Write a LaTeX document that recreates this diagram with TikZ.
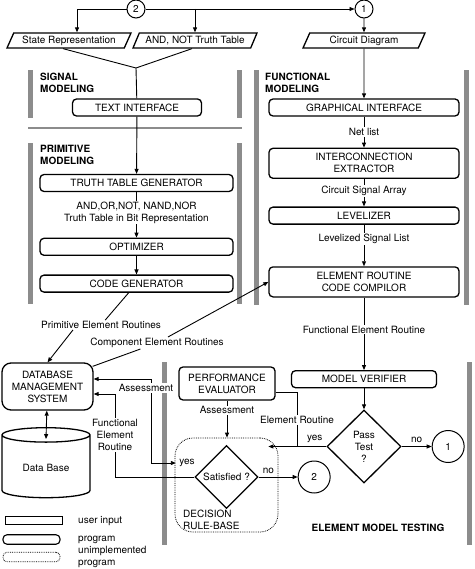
\documentclass[tikz,border=0pt]{standalone}
\usepackage{fontspec}
\setmainfont{TeX Gyre Heros}
\usetikzlibrary{arrows.meta,positioning,calc,shapes.geometric}

\begin{document}
\begin{tikzpicture}[
  x=1pt, y=-1pt,
  box/.style={draw, line width=1.3pt, rounded corners=4pt, minimum height=17pt,
    inner sep=2pt, align=center},
  todo/.style={box, line width=0.8pt, densely dotted},
  io/.style={draw, line width=1.3pt, trapezium, trapezium left angle=60,
    trapezium right angle=120, trapezium stretches body, minimum height=15pt,
    inner sep=1pt},
  test/.style={draw, line width=1.3pt, diamond, inner sep=0pt, align=center},
  conn/.style={draw, line width=1pt, circle, inner sep=0pt},
  arrow/.style={-{Triangle[length=5pt, width=4pt]}, line width=0.9pt},
  darrow/.style={{Triangle[length=5pt, width=4pt]}-{Triangle[length=5pt, width=4pt]},
    line width=0.9pt},
  line/.style={line width=0.9pt},
  note/.style={fill=white, inner sep=1pt, align=center},
  head/.style={font=\bfseries, align=left, anchor=west, inner sep=0pt},
  band/.style={fill=black!45}
]
  \useasboundingbox (0,0) rectangle (474,569);
  % Bands
  \fill[band] (28,70) rectangle (33,118);
  \fill[band] (237,70) rectangle (242,118);
  \fill[band] (28,127) rectangle (242,129.5);
  \fill[band] (28,143) rectangle (33,304);
  \fill[band] (237,143) rectangle (242,304);
  \fill[band] (254,70) rectangle (259,305);
  \fill[band] (464,70) rectangle (469,305);
  \fill[band] (162,362) rectangle (167,545);
  \fill[band] (467,362) rectangle (472,545);
  % Nodes
  \node[conn, minimum size=18pt] (top2) at (136,9) {2};
  \node[conn, minimum size=18pt] (top1) at (364,9) {1};
  \node[io, minimum width=124pt] (state) at (69,40.5) {State Representation};
  \node[io, minimum width=124pt] (andnot) at (195,40.5) {AND, NOT Truth Table};
  \node[io, minimum width=122pt] (circuit) at (364,40.5) {Circuit Diagram};
  \coordinate (merge) at (136,68);

  \node[head] (signal) at (40,83) {SIGNAL\\MODELING};
  \node[box, minimum width=129pt] (textif) at (137,107.5) {TEXT INTERFACE};
  \node[head] (primit) at (40,155) {PRIMITIVE\\MODELING};
  \node[box, minimum width=193pt] (ttgen) at (136.5,183) {TRUTH TABLE GENERATOR};
  \node[box, minimum width=193pt, below=45.5pt of ttgen] (optim) {OPTIMIZER};
  \node[box, minimum width=193pt, below=18.5pt of optim] (codegen) {CODE GENERATOR};

  \node[head] (funct) at (265,82.5) {FUNCTIONAL\\MODELING};
  \node[box, minimum width=190pt] (graphif) at (364,107.5) {GRAPHICAL INTERFACE};
  \node[box, minimum width=190pt, minimum height=30pt, below=31pt of graphif] (extract)
    {INTERCONNECTION\\EXTRACTOR};
  \node[box, minimum width=190pt, below=27.5pt of extract] (level) {LEVELIZER};
  \node[box, minimum width=190pt, minimum height=30pt, below=41.5pt of level] (compil)
    {ELEMENT ROUTINE\\CODE COMPILOR};
  \node[box, minimum width=145pt, below=72.5pt of compil] (verify) {MODEL VERIFIER};
  \node[test, minimum width=74pt, minimum height=73pt, below=21pt of verify] (pass)
    {Pass\\Test\\?};
  \node[conn, minimum size=32pt, right=30pt of pass] (out1) {1};

  \node[box, rounded corners=9pt, minimum width=91pt, minimum height=47pt] (dbms)
    at (47.5,386.5) {DATABASE\\MANAGEMENT\\SYSTEM};
  \node[cylinder, draw, line width=1.3pt, shape border rotate=90, aspect=0.27,
    minimum width=88pt, minimum height=70pt] (db) at (46,468) {Data Base};
  \node[note] (prim) at (101,325) {Primitive Element Routines};
  \node[note] (comp) at (157,343) {Component Element Routines};
  \node[note] (felem) at (115,435) {Functional\\Element\\Routine};

  \node[box, minimum width=96pt, minimum height=33pt] (perfev) at (227,383.5)
    {PERFORMANCE\\EVALUATOR};
  \node[todo, rounded corners=18pt, minimum width=103pt, minimum height=94pt] (rule)
    at (226.5,485) {};
  \node[test, minimum width=63pt, minimum height=63pt] (satis) at (226.5,477) {Satisfied ?};
  \node[conn, minimum size=32pt, right=39pt of satis] (out2) {2};
  \node[anchor=west, align=left, inner sep=0pt] (rbname) at (183,519.5)
    {DECISION\\RULE-BASE};
  \node (yes1) at (187,463) {yes};
  \node[note] (elroute) at (297,420) {Element Routine};
  \node[font=\bfseries] (emt) at (378,528) {ELEMENT MODEL TESTING};

  % Legend
  \node[io, minimum width=57pt, minimum height=8pt, inner sep=0pt] (keyio) at (34,520.5) {};
  \node[box, line width=1.1pt, minimum width=57pt, minimum height=9.5pt, inner sep=0pt]
    (keybox) at (31.5,539.5) {};
  \node[todo, minimum width=57pt, minimum height=9.5pt, inner sep=0pt] (keytodo)
    at (31.5,557) {};
  \node[anchor=west, inner sep=0pt] (keyiotxt) at (78,521) {user input};
  \node[anchor=west, inner sep=0pt] (keyboxtxt) at (78,540) {program};
  \node[anchor=west, inner sep=0pt, align=left] (keytodotxt) at (78,557)
    {unimplemented\\program};

  % Arrows
  \draw[arrow] (top2) -- (top1);
  \draw[arrow] (top2) -| ([xshift=8pt]state.north);
  \draw[arrow] (top2.east -| andnot.north) -- (andnot.north);
  \draw[arrow] (top1) -- (circuit);
  \draw[line] ([xshift=-6pt]state.south) -- (merge);
  \draw[line] ([xshift=-3pt]andnot.south) -- (merge);
  \draw[line] (merge) -- (textif);
  \draw[arrow] (textif) -- (ttgen);
  \draw[arrow] (ttgen) -- node[note, pos=0.45] (bits)
    {AND,OR,NOT, NAND,NOR\\Truth Table in Bit Representation} (optim);
  \draw[arrow] (optim) -- (codegen);

  \draw[arrow] (circuit) -- (graphif);
  \draw[arrow] (graphif) -- node[note] (netlist) {Net list} (extract);
  \draw[arrow] (extract) -- node[note, pos=0.45] (sigarray) {Circuit Signal Array} (level);
  \draw[arrow] (level) -- node[note, pos=0.35] (sigl) {Levelized Signal List} (compil);
  \draw[arrow] (compil) -- node[note, pos=0.44] (fer) {Functional Element Routine} (verify);
  \draw[arrow] (verify) -- (pass);
  \draw[arrow] (pass) -- node[above] (no2) {no} (out1);
  \draw[arrow] (pass) -- ([xshift=-10pt]rule.east |- pass.west)
    node[pos=0.2, above] (yes2) {yes};

  \draw[line] (codegen) -- (prim);
  \draw[arrow] ([xshift=-28pt]prim.south) -- (dbms.north);
  \draw[arrow] (comp) -- (compil.west);
  \draw[line] (comp) -- ([xshift=-1pt, yshift=-4pt]dbms.north east);
  \draw[darrow] (dbms) -- ([yshift=-12pt]db.north);

  \draw[line] ([yshift=-8.5pt]perfev.east) -| (elroute.north);
  \draw[line] (elroute) -- (elroute |- pass.west);
  \draw[arrow] (perfev.south) -- node[note, pos=0.26] (assess2) {Assessment}
    (perfev.south |- rule.north);
  \draw[arrow] (satis) -- node[above, pos=0.25] (no1) {no} (out2);
  \draw[darrow] ([yshift=7.5pt]dbms.east) -| ([xshift=-24pt]yes1.west) -- (yes1.west)
    node[note] (assess1) at (146,388) {Assessment};
  \draw[line] (satis) -| (felem.south);
  \draw[arrow] (felem.north) |- ([yshift=-7.5pt]dbms.east);
\end{tikzpicture}
\end{document}
